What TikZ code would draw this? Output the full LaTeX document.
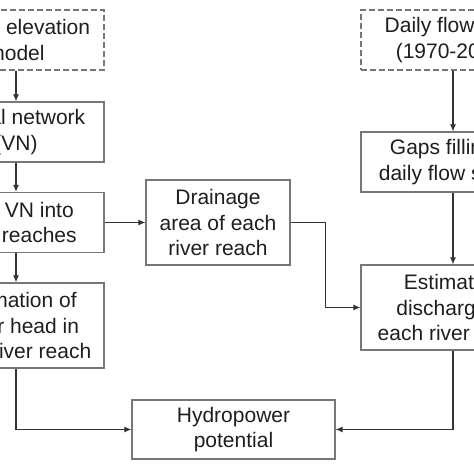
\documentclass[tikz,border=0pt]{standalone}
\usepackage{fontspec}
\setmainfont{Liberation Sans}
\usetikzlibrary{arrows.meta}
\definecolor{boxgray}{HTML}{777777}
\definecolor{linegray}{HTML}{333333}
\definecolor{txtgray}{HTML}{1E1E1E}
\tikzset{
	box/.style={draw=boxgray, line width=1.2pt, align=center, inner sep=0pt, text=txtgray,
		minimum width=176pt, minimum height=60pt},
	inbox/.style={box, dash pattern=on 6pt off 3pt},
	link/.style={draw=linegray, line width=1.1pt, -{Latex[length=7pt,width=6pt]}}
}
\begin{document}
\begin{tikzpicture}[x=1pt, y=-1pt, font=\fontsize{21}{25.5}\selectfont]
	\useasboundingbox (0,0) rectangle (474,474);
	\clip (0,0) rectangle (474,474);
	% left column
	\node[inbox] (dem) at (16,40) {Digital elevation\\model};
	\node[box] (vn) at (16,132) {Virtual network\\(VN)};
	\node[box] (split) at (16,222.5) {Split VN into\\river reaches};
	\node[box, minimum height=85pt] (head) at (16,325.5) {Estimation of\\water head in\\each river reach};
	% middle
	\node[box, minimum width=144pt, minimum height=85pt] (drain) at (218,222.5) {Drainage\\area of each\\river reach};
	\node[box, minimum width=203pt, minimum height=59pt] (hydro) at (233.5,429.5) {Hydropower\\potential};
	% right column
	\node[inbox, minimum width=184pt] (flow) at (453,40) {Daily flow data\\(1970-2010)};
	\node[box, minimum width=184pt] (gaps) at (453,162) {Gaps filling in\\daily flow series};
	\node[box, minimum width=184pt, minimum height=85pt] (disch) at (453,307.5) {Estimation\\discharge in\\each river reach};
	% connectors
	\draw[link] (dem) -- (vn);
	\draw[link] (vn) -- (split);
	\draw[link] (split) -- (head);
	\draw[link] (split) -- (drain);
	\draw[link] (drain.east) -- ++(35,0) |- (disch.west);
	\draw[link] (head.south) |- (hydro.west);
	\draw[link] (flow) -- (gaps);
	\draw[link] (gaps) -- (disch);
	\draw[link] (disch.south) |- (hydro.east);
\end{tikzpicture}
\end{document}
